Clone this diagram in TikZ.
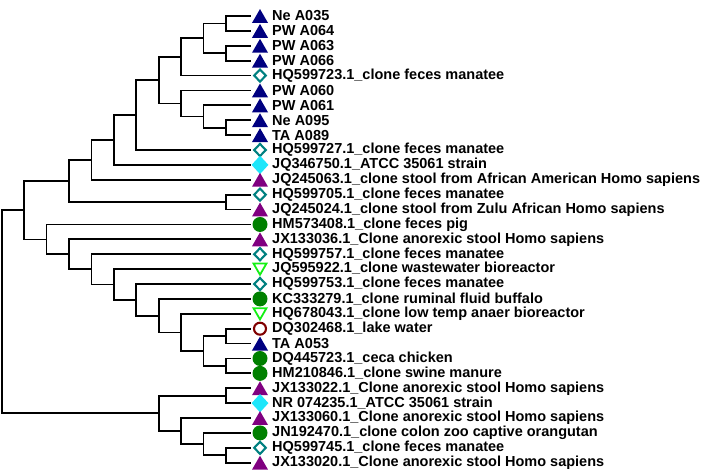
\documentclass[tikz,border=0pt]{standalone}
\usepackage{fontspec}
\setmainfont{Liberation Sans}
\usetikzlibrary{shapes.geometric,calc}
\definecolor{navytri}{RGB}{0,0,128}
\definecolor{purpletri}{RGB}{128,0,128}
\definecolor{tealdia}{RGB}{0,128,128}
\definecolor{cyandia}{RGB}{30,230,250}
\definecolor{greendot}{RGB}{0,128,0}
\definecolor{limetri}{RGB}{20,240,20}
\definecolor{maroondot}{RGB}{128,0,0}
\newcommand{\yo}{16}
\newcommand{\yy}{14.89}
\newcommand{\lvl}{22.43}
\newcommand{\leafnode}[3]{\coordinate (l#1) at (250,{\yo+\yy*#1}); \node[#2] (m#1) at (260,{\yo+\yy*#1}) {}; \node[lbl] (t#1) at (272,{\yo+\yy*#1}) {#3};}
\newcommand{\joinpair}[4]{\coordinate (#1m) at ($(#3)!0.5!(#4)$); \coordinate (#1x) at ({1.7+\lvl*#2},0); \coordinate (#1) at (#1m -| #1x); \draw[branch] (#3) -| (#1) |- (#4);}

\begin{document}
\begin{tikzpicture}[x=1pt,y=-1pt,
    branch/.style={line width=1.8pt,black,line cap=rect},
    lbl/.style={anchor=west,inner sep=0pt,font=\bfseries\fontsize{14.5}{16}\selectfont},
    uptri/.style={regular polygon,regular polygon sides=3,inner sep=0pt,minimum size=18.5pt,yshift=-2.3pt,fill=#1},
    navy/.style={uptri=navytri},
    purp/.style={uptri=purpletri},
    downtri/.style={regular polygon,regular polygon sides=3,shape border rotate=180,inner sep=0pt,minimum size=15pt,yshift=1.9pt,draw=limetri,line width=1.8pt},
    opendia/.style={diamond,inner sep=0pt,minimum width=12.5pt,minimum height=13pt,draw=tealdia,line width=2.1pt},
    filldia/.style={diamond,inner sep=0pt,minimum width=17pt,minimum height=18.5pt,fill=cyandia},
    dot/.style={circle,inner sep=0pt,minimum size=15pt,fill=greendot},
    ring/.style={circle,inner sep=0pt,minimum size=12pt,draw=maroondot,line width=2.1pt}]
\useasboundingbox (0,0) rectangle (709,476);
% leaves
\leafnode{0}{navy}{Ne A035}
\leafnode{1}{navy}{PW A064}
\leafnode{2}{navy}{PW A063}
\leafnode{3}{navy}{PW A066}
\leafnode{4}{opendia}{HQ599723.1\_clone feces manatee}
\leafnode{5}{navy}{PW A060}
\leafnode{6}{navy}{PW A061}
\leafnode{7}{navy}{Ne A095}
\leafnode{8}{navy}{TA A089}
\leafnode{9}{opendia}{HQ599727.1\_clone feces manatee}
\leafnode{10}{filldia}{JQ346750.1\_ATCC 35061 strain}
\leafnode{11}{purp}{JQ245063.1\_clone stool from African American Homo sapiens}
\leafnode{12}{opendia}{HQ599705.1\_clone feces manatee}
\leafnode{13}{purp}{JQ245024.1\_clone stool from Zulu African Homo sapiens}
\leafnode{14}{dot}{HM573408.1\_clone feces pig}
\leafnode{15}{purp}{JX133036.1\_Clone anorexic stool Homo sapiens}
\leafnode{16}{opendia}{HQ599757.1\_clone feces manatee}
\leafnode{17}{downtri}{JQ595922.1\_clone wastewater bioreactor}
\leafnode{18}{opendia}{HQ599753.1\_clone feces manatee}
\leafnode{19}{dot}{KC333279.1\_clone ruminal fluid buffalo}
\leafnode{20}{downtri}{HQ678043.1\_clone low temp anaer bioreactor}
\leafnode{21}{ring}{DQ302468.1\_lake water}
\leafnode{22}{navy}{TA A053}
\leafnode{23}{dot}{DQ445723.1\_ceca chicken}
\leafnode{24}{dot}{HM210846.1\_clone swine manure}
\leafnode{25}{purp}{JX133022.1\_Clone anorexic stool Homo sapiens}
\leafnode{26}{filldia}{NR 074235.1\_ATCC 35061 strain}
\leafnode{27}{purp}{JX133060.1\_Clone anorexic stool Homo sapiens}
\leafnode{28}{dot}{JN192470.1\_clone colon zoo captive orangutan}
\leafnode{29}{opendia}{HQ599745.1\_clone feces manatee}
\leafnode{30}{purp}{JX133020.1\_Clone anorexic stool Homo sapiens}
% upper clade
\joinpair{a1}{10}{l0}{l1}
\joinpair{a2}{10}{l2}{l3}
\joinpair{a3}{9}{a1}{a2}
\joinpair{a4}{8}{a3}{l4}
\joinpair{b1}{10}{l7}{l8}
\joinpair{b2}{9}{l6}{b1}
\joinpair{b3}{8}{l5}{b2}
\joinpair{c1}{7}{a4}{b3}
\joinpair{c2}{6}{c1}{l9}
\joinpair{c3}{5}{c2}{l10}
\joinpair{c4}{4}{c3}{l11}
\joinpair{c5}{10}{l12}{l13}
\joinpair{c6}{3}{c4}{c5}
% middle clade
\joinpair{d1}{10}{l21}{l22}
\joinpair{d2}{10}{l23}{l24}
\joinpair{d3}{9}{d1}{d2}
\joinpair{d4}{8}{l20}{d3}
\joinpair{d5}{7}{l19}{d4}
\joinpair{d6}{6}{l18}{d5}
\joinpair{d7}{5}{l17}{d6}
\joinpair{d8}{4}{l16}{d7}
\joinpair{d9}{3}{l15}{d8}
\joinpair{d10}{2}{l14}{d9}
\joinpair{e1}{1}{c6}{d10}
% lower clade
\joinpair{f1}{10}{l25}{l26}
\joinpair{f2}{10}{l29}{l30}
\joinpair{f3}{9}{l28}{f2}
\joinpair{f4}{8}{l27}{f3}
\joinpair{f5}{7}{f1}{f4}
\joinpair{root}{0}{e1}{f5}
\end{tikzpicture}
\end{document}
